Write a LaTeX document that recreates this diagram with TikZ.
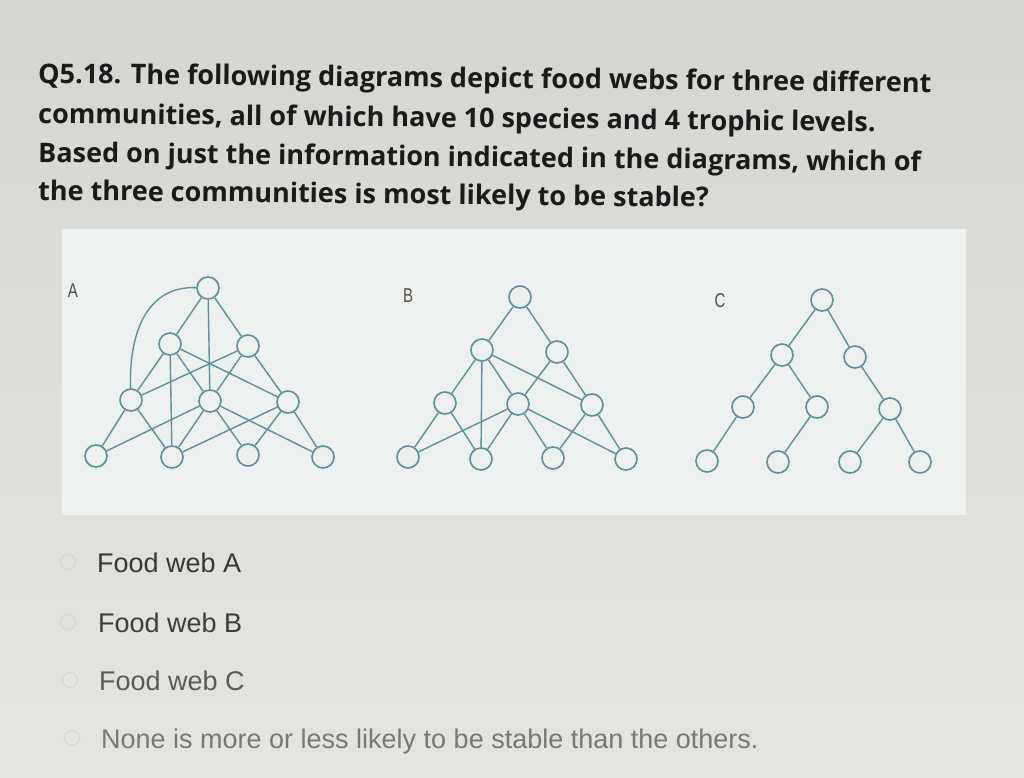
\documentclass[tikz,border=0pt]{standalone}
\usepackage{fontspec}
\setmainfont{Liberation Sans}
\newfontfamily\titlefont{Open Sans}
\definecolor{bg}{RGB}{213,214,209}
\definecolor{bglow}{RGB}{228,228,224}
\definecolor{panel}{RGB}{236,240,238}
\definecolor{web}{RGB}{92,143,153}
\definecolor{ink}{RGB}{26,26,26}
\definecolor{opt}{RGB}{60,60,60}
\definecolor{lab}{RGB}{85,78,70}
\tikzset{
  sp/.style={circle, draw=web, fill=panel, line width=1.6pt, minimum size=22pt, inner sep=0pt},
  ed/.style={draw=web, line width=1.4pt},
  ttl/.style={anchor=base west, inner sep=0pt, text=ink, font=\titlefont\bfseries\fontsize{27}{32}\selectfont},
  opttext/.style={anchor=base west, inner sep=0pt, font=\fontsize{27}{32}\selectfont},
  radio/.style={circle, draw=gray!35, line width=1pt, minimum size=15pt, inner sep=0pt},
  weblab/.style={inner sep=0pt, text=lab, font=\fontsize{20}{24}\selectfont}
}
\begin{document}
\begin{tikzpicture}[x=1pt,y=-1pt]
\useasboundingbox (0,0) rectangle (1024,778);
\shade[top color=bg, bottom color=bglow] (0,0) rectangle (1024,778);
\fill[panel] (62,229) rectangle (966,515);

% title
\node[ttl, rotate=-0.6] (t1) at (38,83) {Q5.18. The following diagrams depict food webs for three different};
\node[ttl, rotate=-0.6] (t2) at (38,123) {communities, all of which have 10 species and 4 trophic levels.};
\node[ttl, rotate=-0.6] (t3) at (38,162) {Based on just the information indicated in the diagrams, which of};
\node[ttl, rotate=-0.6] (t4) at (38,200) {the three communities is most likely to be stable?};

% web labels
\node[weblab, xscale=0.75] (la) at (73,291) {A};
\node[weblab, xscale=0.75] (lb) at (408,296) {B};
\node[weblab, xscale=0.75] (lc) at (720,301) {C};

% ---- Food web A
\node[sp] (TA) at (208,288) {};
\node[sp] (A2a) at (170,344) {};
\node[sp] (A2b) at (248,346) {};
\node[sp] (A3a) at (131,400) {};
\node[sp] (A3b) at (210,401) {};
\node[sp] (A3c) at (288,402) {};
\node[sp] (A4a) at (96,456) {};
\node[sp] (A4b) at (172,457) {};
\node[sp] (A4c) at (248,455) {};
\node[sp] (A4d) at (323,457) {};
\draw[ed] (TA) -- (A2a);
\draw[ed] (TA) -- (A2b);
\draw[ed] (TA) -- (A3b);
\draw[ed] (TA) to[out=178,in=92,looseness=1.1] (A3a);
\draw[ed] (A2a) -- (A3a);
\draw[ed] (A2a) -- (A4b);
\draw[ed] (A2a) -- (A3b);
\draw[ed] (A2a) -- (A3c);
\draw[ed] (A2b) -- (A3a);
\draw[ed] (A2b) -- (A3b);
\draw[ed] (A2b) -- (A3c);
\draw[ed] (A3a) -- (A4a);
\draw[ed] (A3a) -- (A4b);
\draw[ed] (A3b) -- (A4a);
\draw[ed] (A3b) -- (A4b);
\draw[ed] (A3b) -- (A4c);
\draw[ed] (A3b) -- (A4d);
\draw[ed] (A3c) -- (A4b);
\draw[ed] (A3c) -- (A4c);
\draw[ed] (A3c) -- (A4d);

% ---- Food web B
\node[sp] (TB) at (520,297) {};
\node[sp] (B2a) at (482,350) {};
\node[sp] (B2b) at (557,352) {};
\node[sp] (B3a) at (445,403) {};
\node[sp] (B3b) at (518,404) {};
\node[sp] (B3c) at (592,405) {};
\node[sp] (B4a) at (408,457) {};
\node[sp] (B4b) at (481,459) {};
\node[sp] (B4c) at (553,458) {};
\node[sp] (B4d) at (626,459) {};
\draw[ed] (TB) -- (B2a);
\draw[ed] (TB) -- (B2b);
\draw[ed] (B2a) -- (B3a);
\draw[ed] (B2a) -- (B4b);
\draw[ed] (B2a) -- (B3b);
\draw[ed] (B2a) -- (B3c);
\draw[ed] (B2b) -- (B3b);
\draw[ed] (B2b) -- (B3c);
\draw[ed] (B3a) -- (B4a);
\draw[ed] (B3a) -- (B4b);
\draw[ed] (B3b) -- (B4a);
\draw[ed] (B3b) -- (B4b);
\draw[ed] (B3b) -- (B4c);
\draw[ed] (B3b) -- (B4d);
\draw[ed] (B3c) -- (B4c);
\draw[ed] (B3c) -- (B4d);

% ---- Food web C
\node[sp] (TC) at (822,300) {};
\node[sp] (C2a) at (782,355) {};
\node[sp] (C2b) at (855,357) {};
\node[sp] (C3a) at (743,407) {};
\node[sp] (C3b) at (817,407) {};
\node[sp] (C3c) at (890,409) {};
\node[sp] (C4a) at (707,461) {};
\node[sp] (C4b) at (778,462) {};
\node[sp] (C4c) at (850,462) {};
\node[sp] (C4d) at (920,462) {};
\draw[ed] (TC) -- (C2a);
\draw[ed] (TC) -- (C2b);
\draw[ed] (C2a) -- (C3a);
\draw[ed] (C2a) -- (C3b);
\draw[ed] (C2b) -- (C3c);
\draw[ed] (C3a) -- (C4a);
\draw[ed] (C3b) -- (C4b);
\draw[ed] (C3c) -- (C4c);
\draw[ed] (C3c) -- (C4d);

% ---- options
\node[radio] (r1) at (68,562) {};
\node[radio] (r2) at (68,622) {};
\node[radio] (r3) at (70,680) {};
\node[radio] (r4) at (72,738) {};
\node[opttext, text=opt!90!black] (o1) at (97,572) {Food web A};
\node[opttext, text=opt] (o2) at (98,632) {Food web B};
\node[opttext, text=opt!85!white] (o3) at (99,690) {Food web C};
\node[opttext, text=opt!70!white] (o4) at (101,748) {None is more or less likely to be stable than the others.};
\end{tikzpicture}
\end{document}
